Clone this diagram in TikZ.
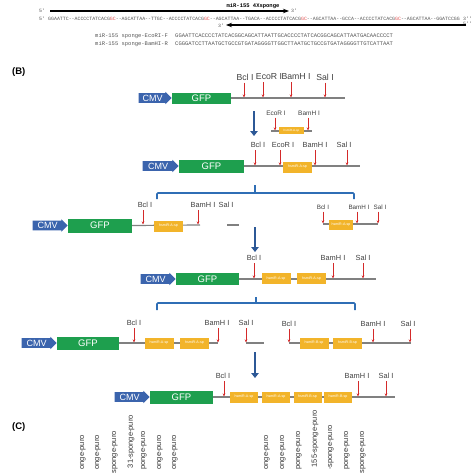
\documentclass[tikz,border=0pt]{standalone}
\usepackage{fontspec}
\setmainfont{Liberation Sans}
\setsansfont{Liberation Sans}
\setmonofont{Liberation Mono}
\usepackage{tikz}
\usetikzlibrary{positioning,arrows.meta,shapes.arrows}
\definecolor{cmvblue}{HTML}{3B64AD}
\definecolor{gfpgreen}{HTML}{1E9F4E}
\definecolor{spyellow}{HTML}{F2B42A}
\definecolor{cutred}{HTML}{D42A2A}
\definecolor{brkblue}{HTML}{2F6EB5}
\definecolor{stepblue}{HTML}{2C5896}
\definecolor{seqgray}{HTML}{555555}
\definecolor{seqred}{HTML}{E05050}

\begin{document}
\begin{tikzpicture}[x=1pt, y=-1pt,
    font=\sffamily,
    cmv/.style={single arrow, single arrow head extend=1.2pt, fill=cmvblue, text=white,
      minimum height=35pt, inner xsep=1pt, inner ysep=1.6pt, text depth=0pt,
      font=\fontsize{9}{9}\selectfont\sffamily},
    gfp/.style={rectangle, fill=gfpgreen, text=white, minimum height=13pt, inner sep=0pt,
      font=\fontsize{9.5}{9.5}\selectfont\sffamily},
    spbox/.style={rectangle, fill=spyellow, text=white, minimum width=29pt, minimum height=11pt,
      inner sep=0pt, font=\fontsize{3.6}{4}\selectfont\sffamily},
    site/.style={inner xsep=0pt, inner ysep=2.2pt, text=black!75, font=\fontsize{7.4}{8}\selectfont\sffamily},
    cut/.style={-{Stealth[length=3pt,width=2.6pt]}, cutred, line width=0.6pt},
    bb/.style={draw=black!50, line width=1.2pt},
    brk/.style={brkblue, line width=1.6pt, rounded corners=1pt},
    down/.style={-{Triangle[length=5pt,width=7.5pt]}, stepblue, line width=2.6pt},
    dna/.style={-{Stealth[length=6pt,width=4.5pt]}, black, line width=1.3pt},
    seq/.style={inner sep=0pt, text=seqgray, font=\fontsize{4.9}{5}\selectfont\ttfamily},
    primer/.style={inner sep=0pt, anchor=west, text=seqgray, font=\fontsize{5.5}{6}\selectfont\ttfamily},
    lane/.style={rotate=90, anchor=east, inner sep=0pt, text=black!80, font=\fontsize{7.5}{8}\selectfont\sffamily},
    tag/.style={anchor=west, inner sep=0pt, font=\fontsize{9.5}{10}\selectfont\sffamily\bfseries}
  ]
  \useasboundingbox (0,0) rectangle (474,474);

  % sponge sequence
  \node[seq] (a5) at (42,11) {5'};
  \coordinate (fw0) at (50,11);
  \coordinate (fw1) at (289,11);
  \draw[dna] (fw0) -- (fw1);
  \node[seq, text=black, font=\fontsize{5.5}{6}\selectfont\ttfamily\bfseries] (sname) at (253,6) {miR-155 4Xsponge};
  \node[seq] (a3) at (294,11) {3'};
  \node[seq] (s5) at (42,19) {5'};
  \node[seq, anchor=west] (sq) at (48,19) {GGAATTC--ACCCCTATCACG{\color{seqred}GC}--AGCATTAA--TTGC--ACCCCTATCACG{\color{seqred}GC}--AGCATTAA--TGACA--ACCCCTATCACG{\color{seqred}GC}--AGCATTAA--GCCA--ACCCCTATCACG{\color{seqred}GC}--AGCATTAA--GGATCCGG};
  \node[seq, anchor=west, align=left] (r35) at (463,21.5) {3''\\5''};
  \coordinate (rv0) at (466,25);
  \coordinate (rv1) at (226,25);
  \draw[dna] (rv0) -- (rv1);
  \node[seq] (b3) at (221,26) {3'};

  \node[primer] (fn) at (95,36) {miR-155 sponge-EcoRI-F};
  \node[primer] (fs) at (175,36) {GGAATTCACCCCTATCACGGCAGCATTAATTGCACCCCTATCACGGCAGCATTAATGACAACCCCT};
  \node[primer] (rn) at (95,44) {miR-155 sponge-BamHI-R};
  \node[primer] (rs) at (175,44) {CGGGATCCTTAATGCTGCCGTGATAGGGGTTGGCTTAATGCTGCCGTGATAGGGGTTGTCATTAAT};

  \node[tag] (tb) at (12,72) {(B)};

  % row 1: vector
  \node[gfp, minimum width=59pt, minimum height=11pt] (g1) at (201.5,98) {GFP};
  \node[cmv, minimum height=33pt, left=0pt of g1] (c1) {CMV};
  \coordinate (e1) at (345,98);
  \draw[bb] (g1.east) -- (e1);
  \foreach \lx/\ax/\t [count=\i] in {245/244/Bcl I, 269/263/EcoR I, 296/291/BamH I, 325/325/Sal I}{
    \node[site, font=\fontsize{8.7}{9}\selectfont\sffamily] (k1\i) at (\lx,77) {\t};
    \coordinate (m1\i) at (\ax,97.4);
    \draw[cut] (m1\i |- k1\i.south) -- (m1\i);
  }

  % insert
  \coordinate (d1a) at (254,111);
  \coordinate (d1b) at (254,136);
  \draw[down] (d1a) -- (d1b);
  \coordinate (i0) at (271,131);
  \coordinate (i1) at (312,131);
  \draw[bb] (i0) -- (i1);
  \node[spbox, minimum width=25pt, minimum height=7pt, font=\fontsize{3}{3}\selectfont\sffamily] (ib) at (291.5,130.5) {hsmiR-A-sp};
  \foreach \lx/\ax/\t [count=\i] in {276/275/EcoR I, 309/308/BamH I}{
    \node[site, font=\fontsize{6.5}{7}\selectfont\sffamily] (ki\i) at (\lx,113) {\t};
    \coordinate (mi\i) at (\ax,130.4);
    \draw[cut] (mi\i |- ki\i.south) -- (mi\i);
  }

  % row 2
  \node[gfp, minimum width=65pt] (g2) at (211.5,166) {GFP};
  \node[cmv, minimum height=36pt, left=0pt of g2] (c2) {CMV};
  \coordinate (e2) at (360,166);
  \draw[bb] (g2.east) -- (e2);
  \node[spbox] (y21) at (297.5,167) {hsmiR-A-sp};
  \foreach \lx/\ax/\t [count=\i] in {258/255/Bcl I, 283/280/EcoR I, 315/315/BamH I, 344/347/Sal I}{
    \node[site] (k2\i) at (\lx,145) {\t};
    \coordinate (m2\i) at (\ax,165.4);
    \draw[cut] (m2\i |- k2\i.south) -- (m2\i);
  }

  \draw[brk] (157,199) |- (354,193) -- (354,199);
  \draw[brk] (255,193) -- (255,185);

  % row 3: cut vector and cut insert
  \node[gfp, minimum width=64pt, minimum height=14pt] (g3) at (100,225.5) {GFP};
  \node[cmv, minimum height=35pt, left=0pt of g3] (c3) {CMV};
  \coordinate (e3) at (200,225);
  \draw[bb] (g3.east) -- (e3);
  \node[spbox] (y31) at (168.5,226) {hsmiR-A-sp};
  \coordinate (z3a) at (227,225);
  \coordinate (z3b) at (239,225);
  \draw[bb] (z3a) -- (z3b);
  \foreach \lx/\ax/\t [count=\i] in {145/143/Bcl I, 203/198/BamH I}{
    \node[site] (k3\i) at (\lx,205) {\t};
    \coordinate (m3\i) at (\ax,224.4);
    \draw[cut] (m3\i |- k3\i.south) -- (m3\i);
  }
  \node[site] (k33) at (226,205) {Sal I};
  \coordinate (f3a) at (323,224);
  \coordinate (f3b) at (378,224);
  \draw[bb] (f3a) -- (f3b);
  \node[spbox, minimum width=24pt, minimum height=10pt] (y32) at (341,225) {hsmiR-A-sp};
  \foreach \lx/\ax/\t [count=\i] in {323/323/Bcl I, 359/357/BamH I, 380/378/Sal I}{
    \node[site, font=\fontsize{6.3}{7}\selectfont\sffamily] (q3\i) at (\lx,207) {\t};
    \coordinate (n3\i) at (\ax,223.4);
    \draw[cut] (n3\i |- q3\i.south) -- (n3\i);
  }
  \coordinate (d3a) at (255,227);
  \coordinate (d3b) at (255,252);
  \draw[down] (d3a) -- (d3b);

  % row 4
  \node[gfp, minimum width=63pt, minimum height=12pt] (g4) at (207.5,279) {GFP};
  \node[cmv, minimum height=35pt, left=0pt of g4] (c4) {CMV};
  \coordinate (e4) at (376,279);
  \draw[bb] (g4.east) -- (e4);
  \node[spbox] (y41) at (276,278.5) {hsmiR-A-sp};
  \node[spbox] (y42) at (311.5,278.5) {hsmiR-A-sp};
  \foreach \lx/\ax/\t [count=\i] in {254/254/Bcl I, 333/333/BamH I, 363/363/Sal I}{
    \node[site] (k4\i) at (\lx,258) {\t};
    \coordinate (m4\i) at (\ax,278.4);
    \draw[cut] (m4\i |- k4\i.south) -- (m4\i);
  }

  \draw[brk] (157,310) |- (355,303) -- (355,310);
  \draw[brk] (256,303) -- (256,297);

  % row 5: cut vector and second insert
  \node[gfp, minimum width=62pt] (g5) at (88,343) {GFP};
  \node[cmv, minimum height=35pt, left=0pt of g5] (c5) {CMV};
  \coordinate (e5) at (218,343);
  \draw[bb] (g5.east) -- (e5);
  \node[spbox] (y51) at (159,343) {hsmiR-A-sp};
  \node[spbox] (y52) at (194.5,343) {hsmiR-A-sp};
  \coordinate (z5a) at (246,343);
  \coordinate (z5b) at (264,343);
  \draw[bb] (z5a) -- (z5b);
  \foreach \lx/\ax/\t [count=\i] in {134/134/Bcl I, 217/218/BamH I, 246/246/Sal I}{
    \node[site] (k5\i) at (\lx,323) {\t};
    \coordinate (m5\i) at (\ax,342.4);
    \draw[cut] (m5\i |- k5\i.south) -- (m5\i);
  }
  \coordinate (f5a) at (289,343);
  \coordinate (f5b) at (411,343);
  \draw[bb] (f5a) -- (f5b);
  \node[spbox] (y53) at (314,343) {hsmiR-B-sp};
  \node[spbox] (y54) at (347.5,343) {hsmiR-B-sp};
  \foreach \lx/\ax/\t [count=\i] in {289/289/Bcl I, 373/373/BamH I, 408/410/Sal I}{
    \node[site] (q5\i) at (\lx,324) {\t};
    \coordinate (n5\i) at (\ax,342.4);
    \draw[cut] (n5\i |- q5\i.south) -- (n5\i);
  }
  \coordinate (d5a) at (255,352);
  \coordinate (d5b) at (255,378);
  \draw[down] (d5a) -- (d5b);

  % row 6
  \node[gfp, minimum width=63pt] (g6) at (181.5,397) {GFP};
  \node[cmv, minimum height=35pt, left=0pt of g6] (c6) {CMV};
  \coordinate (e6) at (395,397);
  \draw[bb] (g6.east) -- (e6);
  \node[spbox, minimum width=28pt] (y61) at (244,397) {hsmiR-A-sp};
  \node[spbox, minimum width=28pt] (y62) at (276,397) {hsmiR-A-sp};
  \node[spbox, minimum width=28pt] (y63) at (307.5,397) {hsmiR-B-sp};
  \node[spbox, minimum width=28pt] (y64) at (338,397) {hsmiR-B-sp};
  \foreach \lx/\ax/\t [count=\i] in {223/224/Bcl I, 357/358/BamH I, 386/386/Sal I}{
    \node[site] (k6\i) at (\lx,376) {\t};
    \coordinate (m6\i) at (\ax,396.4);
    \draw[cut] (m6\i |- k6\i.south) -- (m6\i);
  }

  % (C)
  \node[tag] (tc) at (12,427) {(C)};
  \foreach \x/\y/\t [count=\i] in {83/435/onge-puro, 98/435/onge-puro, 115/431/sponge-puro,
      131/415/31-sponge-puro, 144/431/ponge-puro, 160/435/onge-puro, 175/435/onge-puro,
      267/435/onge-puro, 283/435/onge-puro, 299/431/ponge-puro, 315/410/155-sponge-puro,
      331/425/-sponge-puro, 347/431/ponge-puro, 363/431/sponge-puro}{
    \node[lane] (l\i) at (\x,\y) {\t};
  }
\end{tikzpicture}
\end{document}
